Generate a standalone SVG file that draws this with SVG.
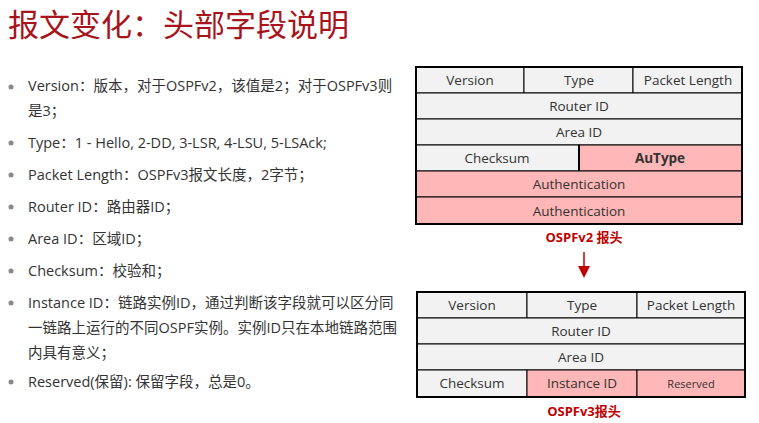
<svg xmlns="http://www.w3.org/2000/svg" width="759" height="423" viewBox="0 0 759 423">
<style>
text{font-family:"Segoe UI","Open Sans","Noto Sans","Noto Sans CJK SC",sans-serif;fill:#333}
.b{font-size:14.5px}
.c{font-size:13.5px;text-anchor:middle}
.g{fill:#f2f2f2;stroke:#000;stroke-width:1}
.p{fill:#ffb7b7;stroke:#000;stroke-width:1}
.o{fill:none;stroke:#000;stroke-width:2}
.cap{font-size:13px;font-weight:bold;fill:#c00000;text-anchor:middle}
</style>
<defs><marker id="ah" markerWidth="8" markerHeight="8" refX="4" refY="4" orient="auto"><path d="M0,0 L8,4 L0,8z" fill="#c00000"/></marker></defs>
<rect width="759" height="423" fill="#fff"/>
<text x="8" y="36" style="font-size:31px;fill:#a8141c">报文变化：头部字段说明</text>
<g id="bullets" fill="#888">
<circle cx="11" cy="87" r="2.5"/><circle cx="11" cy="143" r="2.5"/><circle cx="11" cy="175" r="2.5"/><circle cx="11" cy="207" r="2.5"/><circle cx="11" cy="239" r="2.5"/><circle cx="11" cy="271" r="2.5"/><circle cx="11" cy="303" r="2.5"/><circle cx="11" cy="382" r="2.5"/>
</g>
<text class="b" x="28" y="91">Version：版本，对于OSPFv2，该值是2；对于OSPFv3则</text>
<text class="b" x="28" y="116">是3；</text>
<text class="b" x="28" y="148">Type：1 - Hello, 2-DD, 3-LSR, 4-LSU, 5-LSAck;</text>
<text class="b" x="28" y="180">Packet Length：OSPFv3报文长度，2字节；</text>
<text class="b" x="28" y="212">Router ID：路由器ID；</text>
<text class="b" x="28" y="244">Area ID：区域ID；</text>
<text class="b" x="28" y="276">Checksum：校验和；</text>
<text class="b" x="28" y="308">Instance ID：链路实例ID，通过判断该字段就可以区分同</text>
<text class="b" x="28" y="333">一链路上运行的不同OSPF实例。实例ID只在本地链路范围</text>
<text class="b" x="28" y="358">内具有意义；</text>
<text class="b" x="28" y="387">Reserved(保留): 保留字段，总是0。</text>
<g id="v2">
<rect class="g" x="416" y="67" width="108" height="26"/><rect class="g" x="524" y="67" width="109" height="26"/><rect class="g" x="633" y="67" width="109" height="26"/>
<rect class="g" x="416" y="93" width="326" height="26"/><rect class="g" x="416" y="119" width="326" height="26"/>
<rect class="g" x="416" y="145" width="163" height="26"/><rect class="p" x="579" y="145" width="163" height="26"/>
<rect class="p" x="416" y="171" width="326" height="26"/><rect class="p" x="416" y="197" width="326" height="27"/>
<rect class="o" x="416" y="67" width="326" height="157"/>
<line x1="579" y1="145" x2="579" y2="171" stroke="#000" stroke-width="2"/>
<text class="c" x="470" y="85">Version</text><text class="c" x="579" y="85">Type</text><text class="c" x="688" y="85">Packet Length</text>
<text class="c" x="579" y="111">Router ID</text><text class="c" x="579" y="137">Area ID</text>
<text class="c" x="497" y="163">Checksum</text><text class="c" x="660" y="163" font-weight="bold">AuType</text>
<text class="c" x="579" y="189">Authentication</text><text class="c" x="579" y="216">Authentication</text>
<text class="cap" x="584" y="242">OSPFv2 报头</text>
</g>
<g id="connectors"><line x1="584" y1="252" x2="584" y2="272" stroke="#c00000" stroke-width="1.5" marker-end="url(#ah)"/></g>
<g id="v3">
<rect class="g" x="417" y="292" width="110" height="26"/><rect class="g" x="527" y="292" width="110" height="26"/><rect class="g" x="637" y="292" width="108" height="26"/>
<rect class="g" x="417" y="318" width="328" height="26"/><rect class="g" x="417" y="344" width="328" height="26"/>
<rect class="g" x="417" y="370" width="110" height="27"/><rect class="p" x="527" y="370" width="110" height="27"/><rect class="p" x="637" y="370" width="108" height="27"/>
<rect class="o" x="417" y="292" width="328" height="105"/>
<text class="c" x="472" y="310">Version</text><text class="c" x="582" y="310">Type</text><text class="c" x="691" y="310">Packet Length</text>
<text class="c" x="581" y="336">Router ID</text><text class="c" x="581" y="362">Area ID</text>
<text class="c" x="472" y="388">Checksum</text><text class="c" x="582" y="388">Instance ID</text><text class="c" x="691" y="388" style="font-size:11px">Reserved</text>
<text class="cap" x="584" y="416">OSPFv3报头</text>
</g>
</svg>
